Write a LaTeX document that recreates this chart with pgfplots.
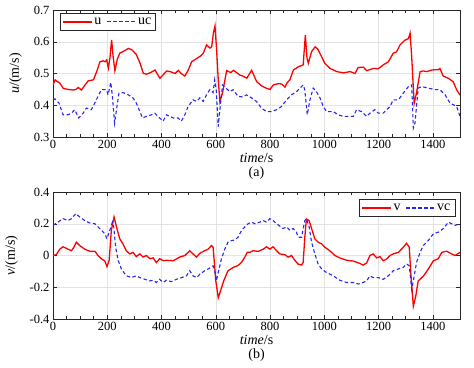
\documentclass[border=0pt]{standalone}
\usepackage{fontspec}
\setmainfont{Liberation Serif}
\usepackage{pgfplots}
\pgfplotsset{compat=1.18}
\definecolor{axgray}{rgb}{0.15,0.15,0.15}
\definecolor{mblue}{rgb}{0.15,0.15,0.95}
\pgfplotsset{
  myax/.style={
    scale only axis, width=407pt, height=127pt,
    xmin=0, xmax=1500,
    xtick={0,200,...,1400},
    minor x tick num=3,
    /pgf/number format/assume math mode=true,
    /pgf/number format/fixed,
    /pgf/number format/precision=1,
    /pgf/number format/1000 sep={},
    font=\fontsize{12}{14}\selectfont,
    tick label style={font=\fontsize{12.5}{14}\selectfont},
    label style={font=\fontsize{14}{16}\selectfont},
    grid=major,
    major grid style={gray!22, line width=0.5pt},
    axis line style={axgray, line width=0.6pt},
    major tick length=4pt, minor tick length=2.5pt,
    every tick/.style={axgray, line width=0.5pt},
    tick align=inside,
    xlabel={\textit{time}/s},
    xlabel style={yshift=3pt},
    ylabel style={yshift=5pt},
    legend columns=2,
    legend style={draw=axgray, line width=0.6pt, font=\fontsize{14}{16}\selectfont, inner sep=2.5pt,
      /tikz/every even column/.append style={column sep=3pt}},
    legend image code/.code={\draw[#1] (0cm,0cm) -- (1.0cm,0cm);},
  },
  ured/.style={red, line width=1.3pt},
  ublue/.style={mblue, line width=1.1pt, dash pattern=on 3.5pt off 2.5pt},
}
\begin{document}
\begin{tikzpicture}
\path (0pt,0pt) rectangle (474pt,-367pt);
\begin{axis}[myax, at={(53pt,-10pt)}, anchor=north west,
  ymin=0.3, ymax=0.7, ytick={0.3,0.4,...,0.7},
  ylabel={\textit{u}/(m/s)},
  legend style={at={(0.017,0.976)}, anchor=north west},
]
\addplot[ured] coordinates {(0,0.464) (8,0.48) (15,0.475) (25,0.47) (38,0.453) (55,0.45) (75,0.448) (85,0.45) (93,0.456) (105,0.448) (118,0.464) (130,0.477) (149,0.48) (161,0.506) (173,0.537) (185,0.54) (192,0.537) (198,0.543) (204,0.517) (210,0.55) (216,0.606) (222,0.55) (228,0.509) (237,0.545) (246,0.564) (260,0.57) (278,0.579) (290,0.575) (307,0.56) (321,0.532) (333,0.50) (345,0.498) (360,0.503) (376,0.511) (394,0.485) (405,0.495) (419,0.508) (435,0.505) (450,0.5) (462,0.51) (472,0.5) (486,0.492) (498,0.51) (511,0.537) (531,0.548) (545,0.556) (554,0.564) (566,0.59) (579,0.58) (585,0.585) (591,0.627) (597,0.65) (603,0.574) (609,0.48) (615,0.411) (625,0.44) (640,0.509) (655,0.503) (665,0.51) (689,0.495) (700,0.492) (714,0.485) (732,0.51) (751,0.474) (769,0.461) (788,0.453) (800,0.45) (812,0.464) (830,0.468) (843,0.467) (855,0.457) (862,0.47) (873,0.48) (886,0.511) (904,0.521) (916,0.525) (922,0.527) (930,0.621) (936,0.55) (941,0.532) (953,0.569) (966,0.584) (975,0.578) (984,0.563) (1002,0.532) (1021,0.516) (1046,0.506) (1070,0.502) (1095,0.506) (1113,0.5) (1125,0.519) (1144,0.52) (1156,0.509) (1181,0.516) (1199,0.515) (1217,0.527) (1236,0.537) (1254,0.564) (1266,0.568) (1279,0.59) (1297,0.605) (1310,0.61) (1316,0.627) (1322,0.553) (1331,0.406) (1340,0.44) (1353,0.506) (1365,0.508) (1377,0.506) (1396,0.511) (1410,0.512) (1420,0.512) (1426,0.516) (1438,0.492) (1457,0.485) (1475,0.474) (1488,0.448) (1500,0.432)};
\addlegendentry{u}
\addplot[ublue] coordinates {(0,0.417) (7,0.42) (22,0.407) (37,0.37) (55,0.37) (68,0.375) (80,0.386) (95,0.36) (111,0.375) (123,0.391) (141,0.386) (154,0.407) (166,0.428) (178,0.449) (197,0.449) (203,0.433) (213,0.472) (219,0.428) (227,0.344) (234,0.386) (243,0.438) (258,0.44) (277,0.433) (295,0.423) (307,0.407) (320,0.38) (330,0.36) (344,0.365) (363,0.37) (375,0.375) (393,0.36) (406,0.35) (418,0.37) (430,0.365) (443,0.36) (461,0.36) (473,0.35) (486,0.37) (498,0.396) (516,0.417) (529,0.412) (541,0.423) (553,0.412) (566,0.433) (578,0.449) (590,0.44) (596,0.48) (602,0.444) (609,0.333) (615,0.386) (625,0.464) (637,0.454) (652,0.443) (664,0.449) (682,0.428) (701,0.426) (713,0.433) (732,0.423) (750,0.412) (768,0.391) (787,0.38) (805,0.38) (824,0.386) (842,0.396) (861,0.417) (879,0.433) (898,0.443) (910,0.454) (922,0.464) (928,0.449) (937,0.37) (947,0.417) (959,0.454) (971,0.443) (984,0.423) (996,0.396) (1008,0.38) (1033,0.38) (1051,0.37) (1070,0.365) (1094,0.365) (1107,0.365) (1119,0.386) (1137,0.38) (1156,0.365) (1168,0.375) (1186,0.386) (1199,0.375) (1217,0.375) (1230,0.386) (1242,0.396) (1254,0.417) (1273,0.417) (1291,0.438) (1310,0.459) (1322,0.464) (1328,0.328) (1334,0.344) (1346,0.454) (1359,0.459) (1383,0.454) (1408,0.449) (1426,0.449) (1445,0.433) (1463,0.407) (1488,0.396) (1500,0.365)};
\addlegendentry{uc}
\end{axis}
\node[font=\fontsize{14}{16}\selectfont] at (256.5pt,-173pt) {(a)};
\begin{axis}[myax, at={(53pt,-192pt)}, anchor=north west,
  ymin=-0.4, ymax=0.4, ytick={-0.4,-0.2,...,0.4},
  ylabel={\textit{v}/(m/s)},
  legend style={at={(0.988,0.944)}, anchor=north east},
]
\addplot[ured] coordinates {(0,0) (12,0.005) (25,0.04) (37,0.055) (55,0.04) (68,0.03) (76,0.05) (86,0.084) (98,0.063) (117,0.04) (135,0.027) (154,0.027) (166,0) (178,-0.02) (191,-0.035) (199,-0.07) (207,-0.03) (215,0.158) (225,0.243) (234,0.18) (246,0.105) (258,0.073) (270,0.03) (283,0.01) (295,0.02) (307,-0.007) (320,0.01) (332,-0.01) (344,0) (357,-0.02) (369,-0.015) (381,-0.045) (393,-0.02) (406,-0.033) (418,-0.03) (443,-0.033) (467,-0.01) (486,0) (504,0.03) (516,0.01) (529,-0.01) (541,0.014) (559,0.03) (572,0.04) (584,0.063) (590,0.052) (594,-0.03) (600,-0.16) (609,-0.266) (618,-0.22) (629,-0.16) (645,-0.096) (664,-0.075) (682,-0.063) (695,-0.043) (707,-0.01) (716,0.02) (725,0.02) (738,0.03) (756,0.026) (775,0.04) (787,0.055) (799,0.04) (811,0.055) (824,0.03) (836,0.01) (855,0.005) (867,-0.011) (879,0) (891,-0.03) (904,-0.055) (916,-0.06) (922,-0.045) (928,0.115) (934,0.23) (944,0.22) (953,0.17) (965,0.105) (977,0.084) (990,0.073) (1002,0.052) (1020,0.03) (1039,0) (1057,-0.015) (1082,-0.03) (1107,-0.035) (1131,-0.05) (1143,-0.06) (1156,-0.047) (1168,0) (1180,0.01) (1193,-0.015) (1205,-0.007) (1217,-0.033) (1230,-0.022) (1242,0) (1254,0.01) (1273,0.02) (1291,0.052) (1303,0.077) (1313,0.052) (1319,-0.118) (1328,-0.32) (1337,-0.255) (1346,-0.16) (1365,-0.13) (1383,-0.086) (1402,-0.033) (1420,-0.02) (1433,0.02) (1451,0.027) (1469,0.01) (1482,0) (1500,0.02)};
\addlegendentry{v}
\addplot[ublue] coordinates {(0,0.19) (18,0.21) (37,0.232) (55,0.22) (68,0.232) (84,0.264) (98,0.243) (117,0.22) (135,0.205) (154,0.2) (172,0.17) (191,0.137) (199,0.105) (209,0.158) (219,0.21) (224,0.178) (231,0.052) (240,-0.03) (252,-0.085) (270,-0.128) (289,-0.139) (307,-0.128) (320,-0.139) (338,-0.15) (357,-0.16) (369,-0.156) (381,-0.17) (393,-0.15) (406,-0.17) (418,-0.156) (436,-0.165) (455,-0.15) (473,-0.14) (492,-0.128) (504,-0.096) (516,-0.128) (529,-0.139) (541,-0.118) (559,-0.096) (572,-0.085) (590,-0.065) (596,-0.096) (602,-0.16) (609,-0.107) (621,-0.02) (633,0.04) (645,0.084) (658,0.094) (670,0.098) (682,0.115) (695,0.158) (707,0.18) (719,0.2) (732,0.21) (744,0.2) (762,0.21) (775,0.22) (787,0.21) (799,0.232) (811,0.22) (824,0.2) (836,0.185) (848,0.17) (861,0.18) (873,0.158) (885,0.17) (897,0.147) (904,0.115) (916,0.115) (928,0.22) (934,0.232) (944,0.18) (953,0.084) (965,0.01) (977,-0.053) (990,-0.085) (1008,-0.107) (1033,-0.128) (1057,-0.156) (1082,-0.17) (1107,-0.17) (1125,-0.18) (1143,-0.17) (1156,-0.16) (1168,-0.128) (1180,-0.139) (1199,-0.139) (1217,-0.15) (1236,-0.128) (1254,-0.096) (1273,-0.085) (1291,-0.075) (1303,-0.053) (1313,-0.065) (1322,-0.213) (1328,-0.16) (1340,-0.043) (1353,0.02) (1365,0.063) (1383,0.094) (1402,0.137) (1420,0.147) (1439,0.17) (1457,0.21) (1469,0.2) (1482,0.19) (1500,0.2)};
\addlegendentry{vc}
\end{axis}
\node[font=\fontsize{14}{16}\selectfont] at (256.5pt,-355pt) {(b)};
\end{tikzpicture}
\end{document}
